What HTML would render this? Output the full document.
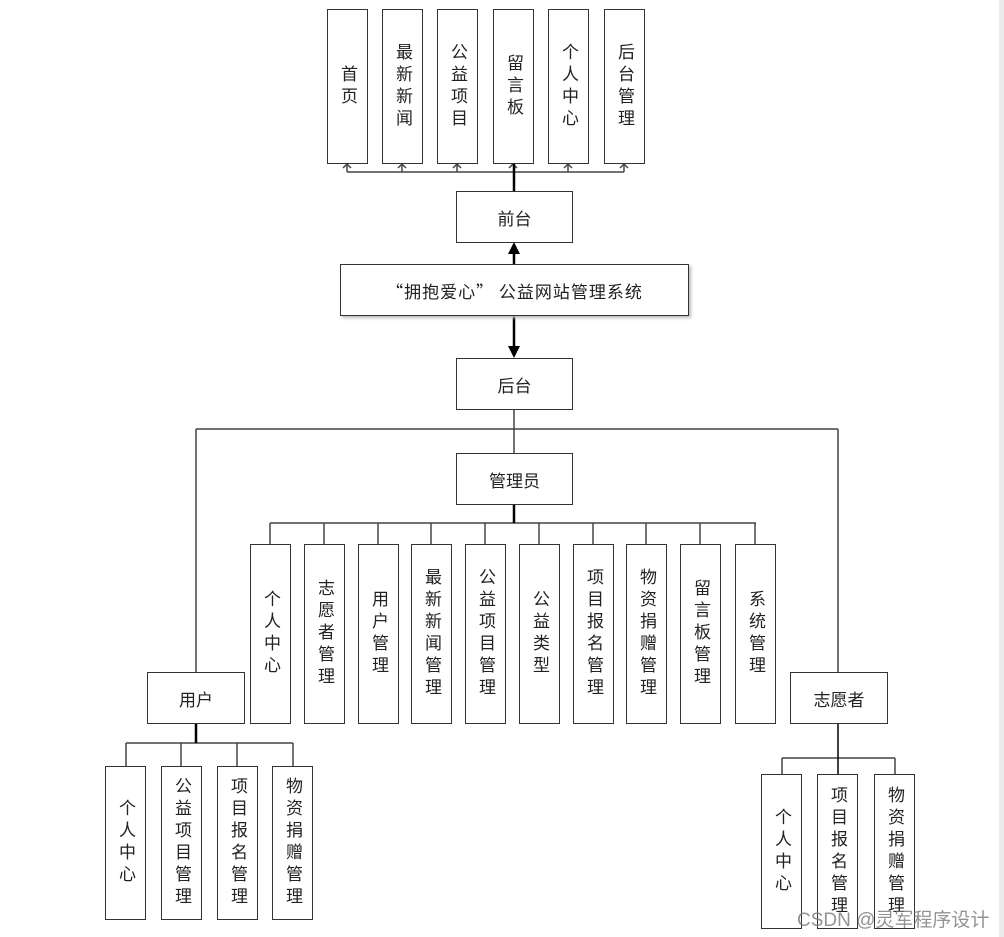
<!DOCTYPE html>
<html><head><meta charset="utf-8"><style>
body{margin:0;width:1004px;height:937px;background:#fff;position:relative;overflow:hidden;font-family:"Liberation Sans","Noto Sans CJK SC",sans-serif;}
.b{position:absolute;box-sizing:border-box;border:1.5px solid #333;background:#fff;display:flex;align-items:center;justify-content:center;font-size:17px;color:#222;}
.v{writing-mode:vertical-rl;text-orientation:upright;letter-spacing:5px;line-height:1;}
svg{position:absolute;left:0;top:0;}
</style></head><body>
<svg width="1004" height="937">
<g stroke="#444" stroke-width="1.5" fill="none">
<line x1="347" y1="172" x2="624" y2="172"/>
<line x1="347" y1="172" x2="347" y2="164"/><line x1="402" y1="172" x2="402" y2="164"/><line x1="457" y1="172" x2="457" y2="164"/><line x1="568" y1="172" x2="568" y2="164"/><line x1="624" y1="172" x2="624" y2="164"/>
<path d="M343,168 L347,164 L351,168 M398,168 L402,164 L406,168 M453,168 L457,164 L461,168 M509,168 L513,164 L517,168 M564,168 L568,164 L572,168 M620,168 L624,164 L628,168"/>
<line x1="196" y1="429" x2="838" y2="429"/>
<line x1="196" y1="429" x2="196" y2="672"/><line x1="838" y1="429" x2="838" y2="672"/>
<line x1="514" y1="410" x2="514" y2="453"/>
<line x1="270" y1="523" x2="756" y2="523"/>
<line x1="270" y1="523" x2="270" y2="544"/><line x1="324" y1="523" x2="324" y2="544"/><line x1="378" y1="523" x2="378" y2="544"/><line x1="431" y1="523" x2="431" y2="544"/><line x1="485" y1="523" x2="485" y2="544"/><line x1="539" y1="523" x2="539" y2="544"/><line x1="593" y1="523" x2="593" y2="544"/><line x1="646" y1="523" x2="646" y2="544"/><line x1="700" y1="523" x2="700" y2="544"/><line x1="755" y1="523" x2="755" y2="544"/>
<line x1="126" y1="743" x2="293" y2="743"/>
<line x1="126" y1="743" x2="126" y2="766"/><line x1="181" y1="743" x2="181" y2="766"/><line x1="237" y1="743" x2="237" y2="766"/><line x1="293" y1="743" x2="293" y2="766"/>
<line x1="782" y1="758" x2="895" y2="758"/>
<line x1="782" y1="758" x2="782" y2="774"/><line x1="895" y1="758" x2="895" y2="774"/>
</g>
<g stroke="#000" stroke-width="2.5" fill="none">
<line x1="514" y1="164" x2="514" y2="191"/>
<line x1="514" y1="264" x2="514" y2="250"/>
<line x1="514" y1="316" x2="514" y2="348"/>
<line x1="514" y1="504" x2="514" y2="523"/>
<line x1="196" y1="723" x2="196" y2="743"/>
</g>
<line x1="838" y1="723" x2="838" y2="774" stroke="#000" stroke-width="1.5"/>
<path d="M508,254 L514,242 L520,254 Z" fill="#000"/>
<path d="M508,346 L514,358 L520,346 Z" fill="#000"/>
<rect x="999" y="0" width="5" height="937" fill="#ebebeb"/>
</svg>
<div class="b v" style="left:327px;top:9px;width:41px;height:155px">首页</div>
<div class="b v" style="left:382px;top:9px;width:41px;height:155px">最新新闻</div>
<div class="b v" style="left:437px;top:9px;width:41px;height:155px">公益项目</div>
<div class="b v" style="left:493px;top:9px;width:41px;height:155px">留言板</div>
<div class="b v" style="left:548px;top:9px;width:41px;height:155px">个人中心</div>
<div class="b v" style="left:604px;top:9px;width:41px;height:155px">后台管理</div>
<div class="b" style="left:456px;top:191px;width:117px;height:52px">前台</div>
<div class="b" style="left:340px;top:264px;width:349px;height:52px;box-shadow:2px 2px 3px #bbb;font-family:'Noto Sans CJK SC',sans-serif;letter-spacing:1px">“拥抱爱心”&nbsp;公益网站管理系统</div>
<div class="b" style="left:456px;top:358px;width:117px;height:52px">后台</div>
<div class="b" style="left:456px;top:453px;width:117px;height:52px">管理员</div>
<div class="b v" style="left:250px;top:544px;width:41px;height:180px">个人中心</div>
<div class="b v" style="left:304px;top:544px;width:41px;height:180px">志愿者管理</div>
<div class="b v" style="left:358px;top:544px;width:41px;height:180px">用户管理</div>
<div class="b v" style="left:411px;top:544px;width:41px;height:180px">最新新闻管理</div>
<div class="b v" style="left:465px;top:544px;width:41px;height:180px">公益项目管理</div>
<div class="b v" style="left:519px;top:544px;width:41px;height:180px">公益类型</div>
<div class="b v" style="left:573px;top:544px;width:41px;height:180px">项目报名管理</div>
<div class="b v" style="left:626px;top:544px;width:41px;height:180px">物资捐赠管理</div>
<div class="b v" style="left:680px;top:544px;width:41px;height:180px">留言板管理</div>
<div class="b v" style="left:735px;top:544px;width:41px;height:180px">系统管理</div>
<div class="b" style="left:147px;top:672px;width:98px;height:52px">用户</div>
<div class="b" style="left:790px;top:672px;width:98px;height:52px">志愿者</div>
<div class="b v" style="left:105px;top:766px;width:41px;height:154px">个人中心</div>
<div class="b v" style="left:161px;top:766px;width:41px;height:154px">公益项目管理</div>
<div class="b v" style="left:217px;top:766px;width:41px;height:154px">项目报名管理</div>
<div class="b v" style="left:272px;top:766px;width:41px;height:154px">物资捐赠管理</div>
<div class="b v" style="left:761px;top:774px;width:41px;height:155px">个人中心</div>
<div class="b v" style="left:817px;top:774px;width:41px;height:155px">项目报名管理</div>
<div class="b v" style="left:874px;top:774px;width:41px;height:155px">物资捐赠管理</div>
<div style="position:absolute;left:797px;top:905px;font-size:19px;color:rgba(120,120,120,0.8);white-space:nowrap">CSDN @灵军程序设计</div>
</body></html>
